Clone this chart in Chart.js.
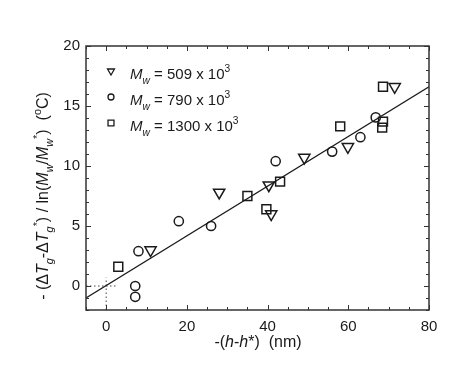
<!DOCTYPE html>
<html>
<head>
<meta charset="utf-8">
<script src="https://cdn.jsdelivr.net/npm/chart.js@4"></script>
<style>
  html, body { margin: 0; padding: 0; background: #fff; }
  #wrap { width: 474px; height: 382px; }
</style>
</head>
<body>
<div id="wrap"><canvas id="myChart" width="474" height="382"></canvas></div>
<script>
// data
const triX = [11, 28, 40.3, 40.9, 49.1, 59.9, 71.5];
const triY = [3.0, 7.8, 8.4, 6.0, 10.7, 11.6, 16.6];
const circX = [7.2, 7.2, 8.0, 18, 26, 42, 56, 63, 66.8];
const circY = [0.0, -0.9, 2.9, 5.4, 5.0, 10.4, 11.2, 12.4, 14.05];
const sqX = [3, 35, 39.7, 43.1, 58, 68.6, 68.4, 68.6];
const sqY = [1.6, 7.5, 6.4, 8.7, 13.3, 13.7, 13.2, 16.6];

const fitX = [-5, 80];
const fitY = [-1.0, 16.6];
const guideHX = [-5, 2.5];
const guideHY = [0, 0];
const guideVX = [0, 0];
const guideVY = [-2, 0.7];

const xTicks = [0, 20, 40, 60, 80];
const yTicks = [0, 5, 10, 15, 20];
const seriesNames = ["509", "790", "1300"];

const FONT = "'Liberation Sans', Arial, sans-serif";
const INK = "#1a1a1a";

const pts = (xs, ys) => xs.map((x, i) => ({ x: x, y: ys[i] }));

/* draw text made of pieces: italic, subscript, superscript */
function richWidth(ctx, segs, size) {
  let w = 0;
  segs.forEach(s => {
    const sz = (s.sub || s.sup) ? size * 0.68 : size;
    ctx.font = (s.it ? "italic " : "") + sz + "px " + FONT;
    w += ctx.measureText(s.t).width;
  });
  return w;
}
function drawRich(ctx, segs, x, y, size) {
  let cx = x;
  segs.forEach(s => {
    const sz = (s.sub || s.sup) ? size * 0.68 : size;
    ctx.font = (s.it ? "italic " : "") + sz + "px " + FONT;
    let dy = 0;
    if (s.sub) dy = size * 0.3;
    if (s.sup) dy = -size * 0.45;
    ctx.fillText(s.t, cx, y + dy);
    cx += ctx.measureText(s.t).width;
  });
}

const yTitle = [
  { t: "- (" }, { t: "\u0394" }, { t: "T", it: 1 }, { t: "g", it: 1, sub: 1 },
  { t: "-\u0394" }, { t: "T", it: 1 }, { t: "g", it: 1, sub: 1 }, { t: "*", sup: 1 },
  { t: ") / ln(" }, { t: "M", it: 1 }, { t: "w", it: 1, sub: 1 }, { t: "/" },
  { t: "M", it: 1 }, { t: "w", it: 1, sub: 1 }, { t: "*", sup: 1 },
  { t: ")  (" }, { t: "o", sup: 1 }, { t: "C)" }
];
const xTitle = [
  { t: "-(" }, { t: "h", it: 1 }, { t: "-" }, { t: "h", it: 1 }, { t: "*)  (nm)" }
];

const decor = {
  id: "decor",
  afterDraw(chart) {
    const { ctx, chartArea: a, scales: { x, y } } = chart;
    ctx.save();
    ctx.strokeStyle = "#333";
    ctx.lineWidth = 1.5;
    ctx.strokeRect(a.left, a.top, a.right - a.left, a.bottom - a.top);

    /* inward ticks on all four sides */
    ctx.lineWidth = 1;
    ctx.beginPath();
    for (let v = -5; v <= 80; v += 5) {
      const px = Math.round(x.getPixelForValue(v)) + 0.5;
      const len = v % 20 === 0 ? 5 : 3;
      ctx.moveTo(px, a.bottom); ctx.lineTo(px, a.bottom - len);
      ctx.moveTo(px, a.top); ctx.lineTo(px, a.top + len);
    }
    for (let v = -2; v <= 20; v += 1) {
      const py = Math.round(y.getPixelForValue(v)) + 0.5;
      const len = v % 5 === 0 ? 5 : 3;
      ctx.moveTo(a.left, py); ctx.lineTo(a.left + len, py);
      ctx.moveTo(a.right, py); ctx.lineTo(a.right - len, py);
    }
    ctx.stroke();

    ctx.fillStyle = INK;
    ctx.textBaseline = "alphabetic";
    ctx.textAlign = "left";

    /* x title */
    const xs = 16;
    const xw = richWidth(ctx, xTitle, xs);
    drawRich(ctx, xTitle, 258 - xw / 2, 347, xs);

    /* y title, rotated */
    const ys = 16;
    const yw = richWidth(ctx, yTitle, ys);
    ctx.save();
    ctx.translate(48, 196);
    ctx.rotate(-Math.PI / 2);
    drawRich(ctx, yTitle, -yw / 2, 0, ys);
    ctx.restore();

    /* legend */
    const styles = ["triangle", "circle", "rect"];
    const radii = [4, 3, 4.2];
    ctx.strokeStyle = INK;
    ctx.lineWidth = 1.3;
    seriesNames.forEach((n, i) => {
      const base = 79 + i * 26;
      ctx.fillStyle = "rgba(0,0,0,0)";
      Chart.helpers.drawPoint(ctx, {
        pointStyle: styles[i], radius: radii[i], rotation: i === 0 ? 180 : 0, borderWidth: 1.3
      }, 111, base - 8);
      ctx.fillStyle = INK;
      drawRich(ctx, [
        { t: "M", it: 1 }, { t: "w", it: 1, sub: 1 }, { t: " = " + n + " x 10" }, { t: "3", sup: 1 }
      ], 130, base, 15);
    });
    ctx.restore();
  }
};

const markerBase = {
  showLine: false,
  backgroundColor: "rgba(0,0,0,0)",
  borderColor: INK,
  borderWidth: 1.5
};

const data = {
  datasets: [
    { data: pts(fitX, fitY), showLine: true, pointRadius: 0, borderColor: INK, borderWidth: 1.3 },
    { data: pts(guideHX, guideHY), showLine: true, pointRadius: 0, borderColor: "#444", borderWidth: 1, borderDash: [1.5, 2.5] },
    { data: pts(guideVX, guideVY), showLine: true, pointRadius: 0, borderColor: "#444", borderWidth: 1, borderDash: [1.5, 2.5] },
    Object.assign({ data: pts(triX, triY), pointStyle: "triangle", rotation: 180, pointRadius: 6.5 }, markerBase),
    Object.assign({ data: pts(circX, circY), pointStyle: "circle", pointRadius: 4.6 }, markerBase),
    Object.assign({ data: pts(sqX, sqY), pointStyle: "rect", pointRadius: 6.3 }, markerBase)
  ]
};

const tickFont = { family: FONT, size: 15 };

new Chart(document.getElementById("myChart").getContext("2d"), {
  type: "scatter",
  data,
  options: {
    responsive: false,
    animation: false,
    layout: { padding: { left: 0, top: 46, right: 45, bottom: 0 } },
    plugins: { legend: { display: false }, tooltip: { enabled: false } },
    scales: {
      x: {
        type: "linear", min: -5, max: 80,
        afterBuildTicks: s => { s.ticks = xTicks.map(v => ({ value: v })); },
        afterFit: s => { s.height = 72; },
        grid: { display: false, drawTicks: false },
        border: { display: false },
        ticks: { font: tickFont, color: INK, padding: 8, maxRotation: 0 }
      },
      y: {
        type: "linear", min: -2, max: 20,
        afterBuildTicks: s => { s.ticks = yTicks.map(v => ({ value: v })); },
        afterFit: s => { s.width = 86; },
        grid: { display: false, drawTicks: false },
        border: { display: false },
        ticks: { font: tickFont, color: INK, padding: 6 }
      }
    }
  },
  plugins: [decor]
});
</script>
</body>
</html>
